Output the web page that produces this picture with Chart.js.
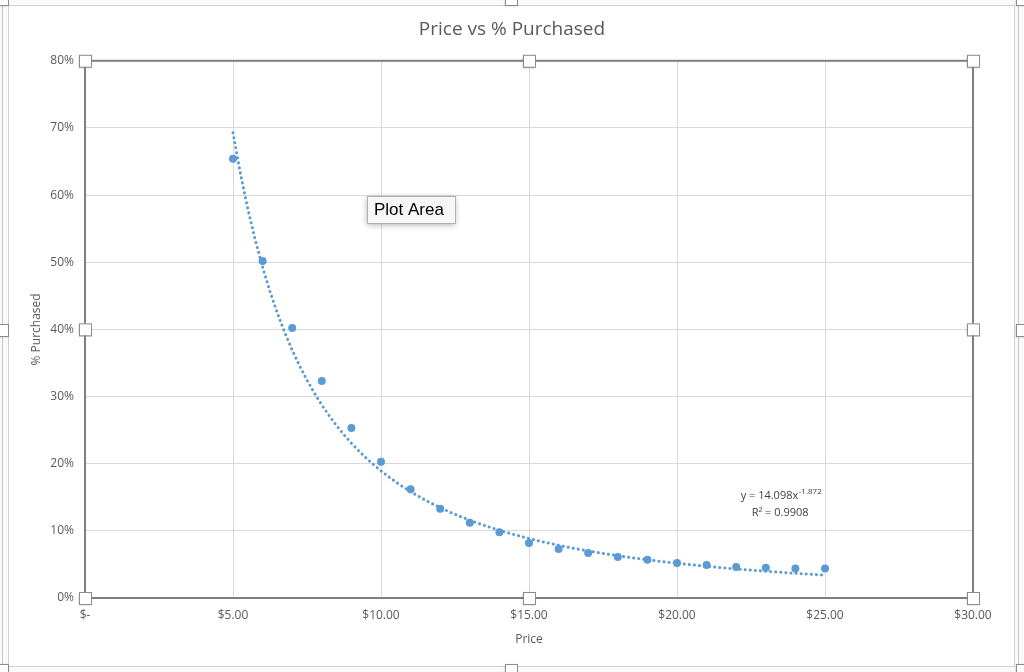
<!DOCTYPE html>
<html>
<head>
<meta charset="utf-8">
<script src="https://cdn.jsdelivr.net/npm/chart.js@4.4.1/dist/chart.umd.min.js"></script>
<style>
  html, body { margin: 0; padding: 0; background: #ffffff; }
  #wrap { position: relative; width: 1024px; height: 672px; }
</style>
</head>
<body>
<div id="wrap"><canvas id="priceChart" width="1024" height="672"></canvas></div>
<script>
// observed data
const prices = [5, 6, 7, 8, 9, 10, 11, 12, 13, 14, 15, 16, 17, 18, 19, 20, 21, 22, 23, 24, 25];
const purchased = [0.654, 0.502, 0.402, 0.323, 0.253, 0.203, 0.162, 0.133, 0.112, 0.098, 0.082,
                   0.073, 0.067, 0.061, 0.057, 0.052, 0.049, 0.046, 0.045, 0.044, 0.044];

// power trendline as printed on the chart: y = 14.098x^-1.872
const trendCoef = 14.098;
const trendExp = -1.872;
const trendR2 = '0.9908';

const xTicks = [0, 5, 10, 15, 20, 25, 30];
const yTicks = [0, 0.1, 0.2, 0.3, 0.4, 0.5, 0.6, 0.7, 0.8];

const blue = '#5b9bd5';
const textGray = '#595959';

const scatterPoints = prices.map((p, i) => ({ x: p, y: purchased[i] }));
const trendPoints = [];
for (let x = prices[0]; x <= prices[prices.length - 1] + 0.001; x += 0.25) {
    trendPoints.push({ x: x, y: trendCoef * Math.pow(x, trendExp) });
}

function handle(ctx, x, y) {
    ctx.save();
    ctx.shadowColor = 'rgba(0,0,0,0.25)';
    ctx.shadowBlur = 2;
    ctx.shadowOffsetY = 1;
    ctx.fillStyle = '#ffffff';
    ctx.fillRect(x - 6, y - 6, 12, 12);
    ctx.restore();
    ctx.strokeStyle = '#8c8c8c';
    ctx.lineWidth = 1;
    ctx.strokeRect(x - 5.5, y - 5.5, 12, 12);
}

const decorations = {
    id: 'decorations',
    beforeDraw(chart) {
        const ctx = chart.ctx;
        ctx.save();
        // spreadsheet strip behind the chart
        ctx.fillStyle = '#fafafa';
        ctx.fillRect(0, 0, 1024, 672);
        ctx.fillStyle = '#ffffff';
        ctx.fillRect(8, 5, 1007, 662);
        ctx.strokeStyle = '#d0d0d0';
        ctx.lineWidth = 1;
        ctx.strokeRect(8.5, 5.5, 1006, 661);
        ctx.strokeStyle = '#c8c8c8';
        ctx.beginPath();
        ctx.moveTo(1018.5, 0); ctx.lineTo(1018.5, 672);
        ctx.moveTo(2.5, 0); ctx.lineTo(2.5, 672);
        ctx.stroke();
        ctx.restore();
    },
    afterDraw(chart) {
        const ctx = chart.ctx;
        const a = chart.chartArea;
        const xs = chart.scales.x;
        const ys = chart.scales.y;
        ctx.save();

        // selected plot area outline
        ctx.strokeStyle = '#7f7f7f';
        ctx.lineWidth = 2;
        ctx.strokeRect(a.left, a.top, a.right - a.left, a.bottom - a.top);

        // trendline label
        ctx.fillStyle = '#404040';
        ctx.textBaseline = 'alphabetic';
        ctx.font = '11px "Open Sans", sans-serif';
        const lx = xs.getPixelForValue(22.15);
        const ly = ys.getPixelForValue(0.148);
        const eq = 'y = ' + trendCoef.toFixed(3) + 'x';
        ctx.textAlign = 'left';
        ctx.fillText(eq, lx, ly);
        const w = ctx.measureText(eq).width;
        ctx.font = '8px "Open Sans", sans-serif';
        ctx.fillText(String(trendExp), lx + w + 0.5, ly - 5);
        ctx.font = '11px "Open Sans", sans-serif';
        ctx.fillText('R\u00b2 = ' + trendR2, lx + 11, ly + 17);

        // "Plot Area" hover tip
        ctx.save();
        ctx.shadowColor = 'rgba(0,0,0,0.3)';
        ctx.shadowBlur = 6;
        ctx.shadowOffsetY = 2;
        ctx.fillStyle = '#f7f7f7';
        ctx.fillRect(367, 196, 88, 27);
        ctx.restore();
        ctx.strokeStyle = '#b0b0b0';
        ctx.lineWidth = 1;
        ctx.strokeRect(367.5, 196.5, 88, 27);
        ctx.fillStyle = '#000000';
        ctx.font = '17px "Liberation Sans", Arial, sans-serif';
        ctx.textAlign = 'left';
        ctx.textBaseline = 'middle';
        ctx.fillText('Plot Area', 374, 210);

        // selection handles: plot area
        const mx = (a.left + a.right) / 2;
        const my = (a.top + a.bottom) / 2;
        [[a.left, a.top], [mx, a.top], [a.right, a.top],
         [a.left, my], [a.right, my],
         [a.left, a.bottom], [mx, a.bottom], [a.right, a.bottom]].forEach(p => handle(ctx, p[0], p[1]));
        // selection handles: chart frame (mostly off the edges)
        [[511, -1], [2, 330], [1022, 330], [511, 670], [2, 670], [1022, 670], [1022, -1], [2, -1]]
            .forEach(p => handle(ctx, p[0], p[1]));
        ctx.restore();
    }
};

new Chart(document.getElementById('priceChart'), {
    type: 'scatter',
    data: {
        datasets: [{
            label: 'Trend',
            data: trendPoints,
            showLine: true,
            borderColor: blue,
            borderWidth: 3,
            borderDash: [0.1, 5],
            borderCapStyle: 'round',
            pointRadius: 0,
            fill: false,
            order: 2
        }, {
            label: '% Purchased',
            data: scatterPoints,
            backgroundColor: blue,
            borderColor: blue,
            pointRadius: 4,
            pointBorderWidth: 0,
            order: 1
        }]
    },
    options: {
        responsive: false,
        animation: false,
        layout: { padding: 0 },
        plugins: {
            legend: { display: false },
            tooltip: { enabled: false },
            title: {
                display: true,
                text: 'Price vs % Purchased',
                color: textGray,
                font: { family: '"Open Sans", sans-serif', size: 19, weight: 'normal' },
                padding: { top: 18, bottom: 20 }
            }
        },
        scales: {
            x: {
                type: 'linear',
                min: 0,
                max: 30,
                afterBuildTicks: s => { s.ticks = xTicks.map(v => ({ value: v })); },
                afterFit: s => { s.height = 74; },
                grid: { color: '#d9d9d9', lineWidth: 1, drawTicks: false },
                border: { display: false },
                ticks: {
                    color: textGray,
                    padding: 10,
                    maxRotation: 0,
                    font: { family: '"Open Sans", sans-serif', size: 12 },
                    callback: v => v === 0 ? '$-' : '$' + v.toFixed(2)
                },
                title: {
                    display: true,
                    text: 'Price',
                    color: textGray,
                    font: { family: '"Open Sans", sans-serif', size: 12 },
                    padding: { top: 0, bottom: 25 }
                }
            },
            y: {
                min: 0,
                max: 0.8,
                afterBuildTicks: s => { s.ticks = yTicks.map(v => ({ value: v })); },
                afterFit: s => { s.width = 85; },
                grid: { color: '#d9d9d9', lineWidth: 1, drawTicks: false },
                border: { display: false },
                ticks: {
                    color: textGray,
                    padding: 11,
                    font: { family: '"Open Sans", sans-serif', size: 12 },
                    callback: v => Math.round(v * 100) + '%'
                },
                title: {
                    display: true,
                    text: '% Purchased',
                    color: textGray,
                    font: { family: '"Open Sans", sans-serif', size: 12 },
                    padding: { top: 29, bottom: 0 }
                }
            },
            // empty right-hand margin so the title centres on the whole chart
            yRight: {
                axis: 'y',
                position: 'right',
                min: 0,
                max: 0.8,
                afterFit: s => { s.width = 51; },
                grid: { display: false, drawTicks: false },
                border: { display: false },
                ticks: { display: false }
            }
        }
    },
    plugins: [decorations]
});
</script>
</body>
</html>
